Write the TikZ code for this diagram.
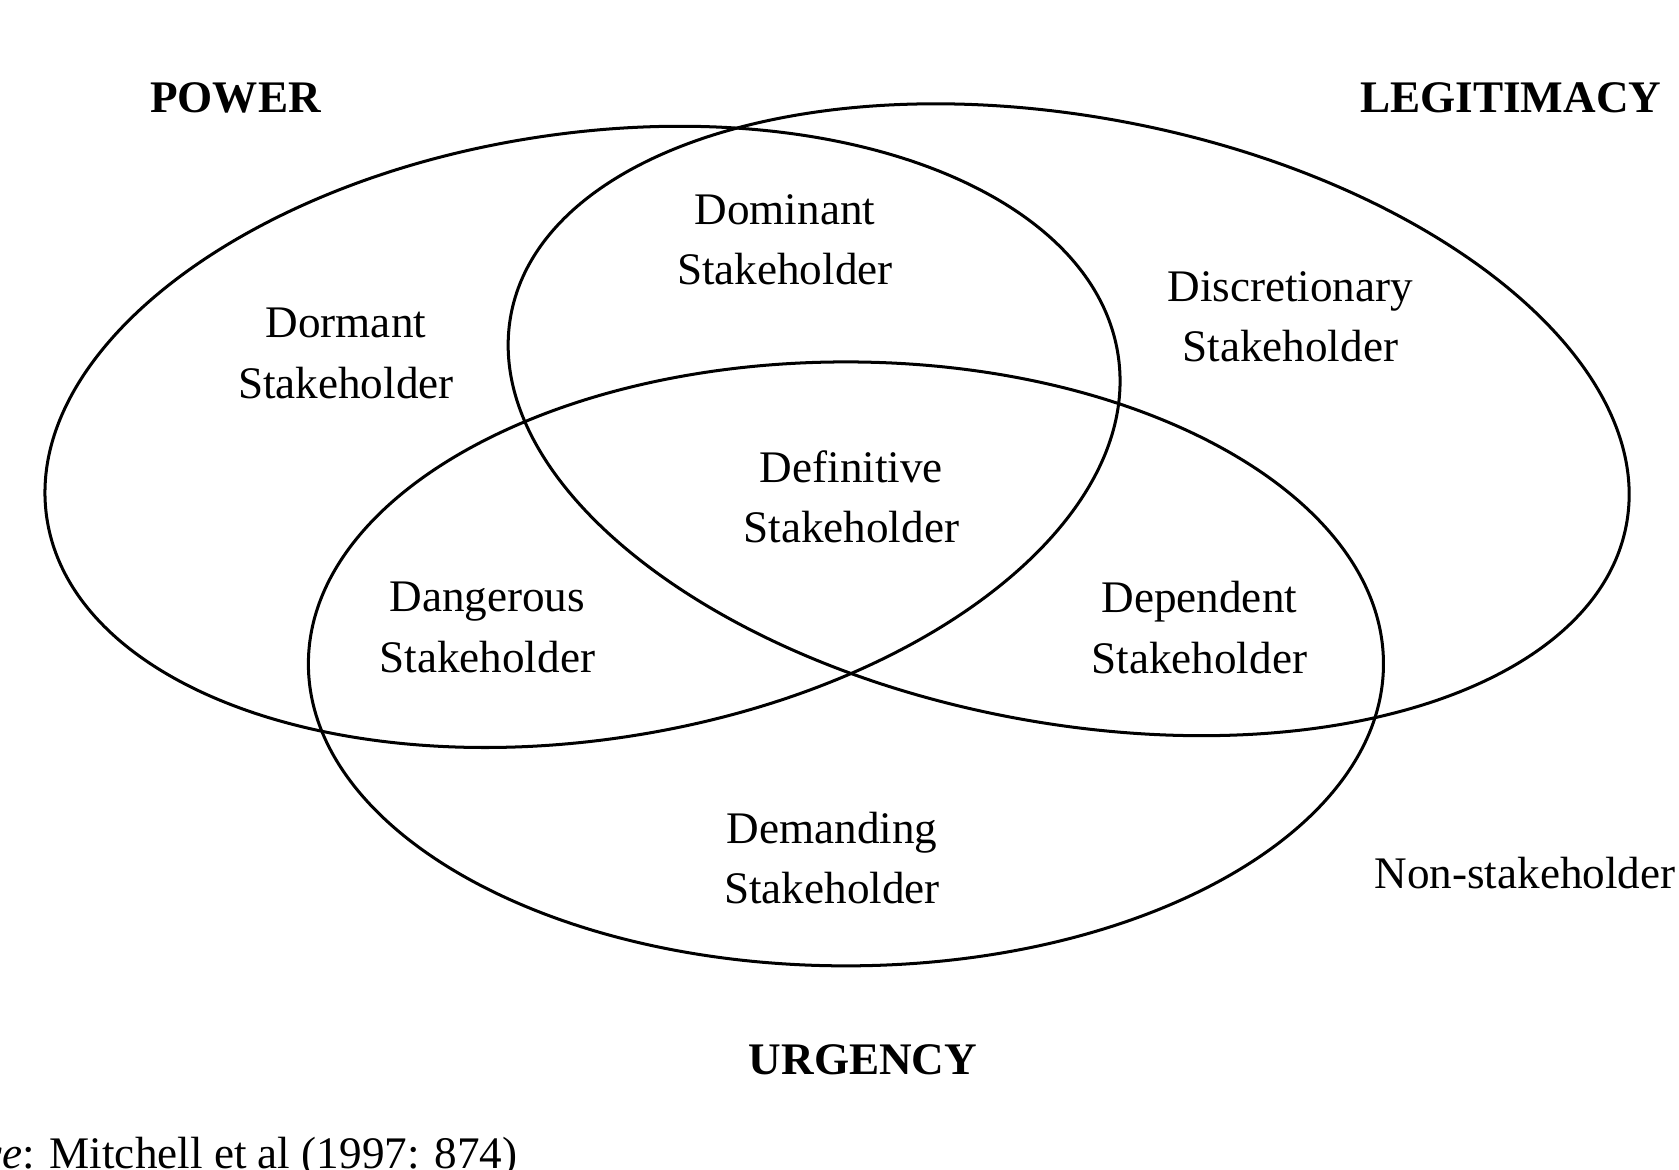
\documentclass[tikz,border=0pt]{standalone}
\usepackage{fontspec}
\setmainfont{Liberation Serif}
\usepackage{tikz}
\usetikzlibrary{positioning}
\tikzstyle{region} = [
	align=center,
	inner sep=0pt,
	font=\fontsize{12}{16}\selectfont
]
\tikzstyle{attribute} = [
	inner sep=0pt,
	anchor=base,
	font=\fontsize{12}{16}\selectfont\bfseries
]
\tikzstyle{oval} = [line width=0.8pt]

\begin{document}
\begin{tikzpicture}
	\useasboundingbox (0,0) rectangle (15.68,-10.926);
	% the three attribute sets
	\draw[oval, rotate around={8.7:(5.44,-4.08)}] (5.44,-4.08) ellipse [x radius=5.06, y radius=2.83];
	\draw[oval, rotate around={-10.7:(9.98,-3.92)}] (9.98,-3.92) ellipse [x radius=5.30, y radius=2.83];
	\draw[oval] (7.90,-6.20) ellipse [x radius=5.02, y radius=2.82];

	\node[attribute] (power) at (2.20,-1.05) {POWER};
	\node[attribute] (legitimacy) at (14.11,-1.05) {LEGITIMACY};
	\node[attribute] (urgency) at (8.06,-10.03) {URGENCY};

	\node[region] (dominant) at (7.33,-2.24) {Dominant\\Stakeholder};
	\node[region] (dormant) at (3.23,-3.30) {Dormant\\Stakeholder};
	\node[region] (discretionary) at (12.05,-2.96) {Discretionary\\Stakeholder};
	\node[region] (definitive) at (7.95,-4.64) {Definitive\\Stakeholder};
	\node[region] (dangerous) at (4.55,-5.86) {Dangerous\\Stakeholder};
	\node[region] (dependent) at (11.20,-5.86) {Dependent\\Stakeholder};
	\node[region] (demanding) at (7.77,-8.01) {Demanding\\Stakeholder};
	\node[region, anchor=base west] (nonstake) at (12.83,-8.30) {Non-stakeholder};

	\node[region, anchor=base east] (source) at (4.84,-10.91) {\textit{Source}: Mitchell et al (1997: 874)};
\end{tikzpicture}
\end{document}
